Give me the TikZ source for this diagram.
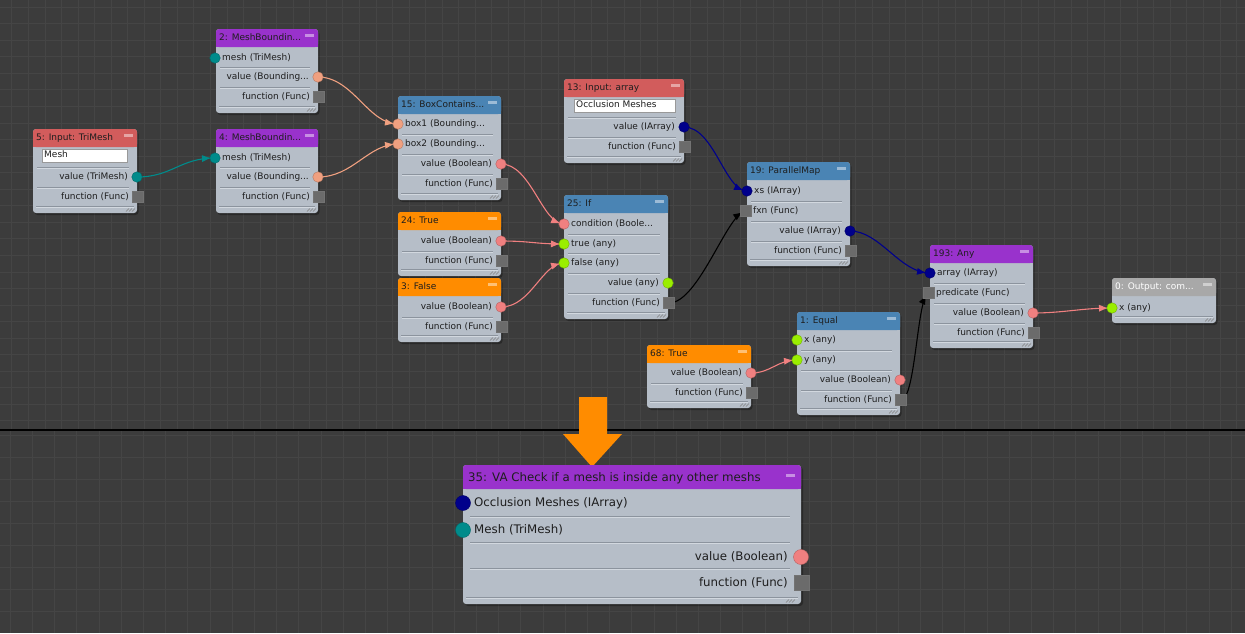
\documentclass[tikz,border=0pt]{standalone}
\usepackage{fontspec}
\setmainfont{DejaVu Sans}
\usetikzlibrary{arrows.meta,decorations.markings}
\pgfdeclarelayer{bgl}
\pgfdeclarelayer{wirel}
\pgfsetlayers{bgl,wirel,main}
\definecolor{bgc}{HTML}{3C3C3C}
\definecolor{gridc}{HTML}{454545}
\definecolor{bodyc}{HTML}{B6BEC8}
\definecolor{hred}{HTML}{D25C5C}
\definecolor{hpurple}{HTML}{9932CC}
\definecolor{hblue}{HTML}{4A84B4}
\definecolor{horange}{HTML}{FF8C00}
\definecolor{hgray}{HTML}{A8A8A8}
\definecolor{pteal}{HTML}{008B8B}
\definecolor{psalmon}{HTML}{F0A080}
\definecolor{pcoral}{HTML}{F08080}
\definecolor{plime}{HTML}{9AEE00}
\definecolor{pnavy}{HTML}{00008B}
\definecolor{pfunc}{HTML}{6B6B6B}
\definecolor{txt}{HTML}{1E1E1E}
\definecolor{sepd}{HTML}{8C949E}
\definecolor{sepl}{HTML}{D2D8DF}
\newcommand{\smallf}{\fontsize{9}{10.5}\selectfont}
\newcommand{\bigf}{\fontsize{11.8}{14}\selectfont}
\tikzset{
  port/.style={circle, inner sep=0pt, minimum size=10.5pt, fill=#1, draw=#1!75!black, line width=0.4pt},
  fport/.style={rectangle, inner sep=0pt, minimum size=11pt, fill=pfunc, draw=black!55, line width=0.5pt},
  lbl/.style={inner sep=0pt, font=\smallf, text=txt, text height=6.6pt, text depth=1.8pt},
  lblb/.style={inner sep=0pt, font=\bigf, text=txt, text height=8.6pt, text depth=2.3pt},
  bodybox/.style={rectangle, rounded corners=3pt, fill=bodyc, anchor=north west, inner sep=0pt, outer sep=0pt},
  wire/.style={color=#1, line width=1.1pt, postaction={decorate},
    decoration={markings, mark=at position -5pt with {\arrow{Triangle[length=8pt,width=6.5pt]}}}},
  field/.style={fill=white, draw=black!40, line width=0.4pt},
}
% #1 name #2 L #3 T #4 W #5 H #6 header colour #7 title #8 title colour
\newcommand{\gnode}[8]{%
  \fill[black, opacity=0.3, rounded corners=3pt] (#2+1.5,#3+2) rectangle ++(#4,#5);
  \node[bodybox, minimum width=#4pt, minimum height=#5pt] (#1) at (#2,#3) {};
  \fill[#6, rounded corners=3pt] (#1.north west) rectangle ([yshift=-18pt]#1.north east);
  \fill[#6] ([yshift=-9pt]#1.north west) rectangle ([yshift=-18pt]#1.north east);
  \fill[#6!55!white] ([xshift=-13pt,yshift=-5pt]#1.north east) rectangle ([xshift=-4pt,yshift=-7.5pt]#1.north east);
  \node[lbl, anchor=west, text=#8] (#1t) at ([xshift=3pt,yshift=-9.5pt]#1.north west) {#7};
  \draw[sepd, line width=0.5pt] ([xshift=3pt,yshift=7pt]#1.south west) -- ([xshift=-3pt,yshift=7pt]#1.south east);
  \draw[sepl, line width=0.5pt] ([xshift=3pt,yshift=6pt]#1.south west) -- ([xshift=-3pt,yshift=6pt]#1.south east);
  \foreach \k in {0,3,6} \draw[black!50, line width=0.5pt] ([xshift={-(5+\k)*1pt}, yshift=1.5pt]#1.south east) -- ++(3,-3);
}
\newcommand{\inp}[5]{\node[#3] (#4) at (#1,#2) {}; \node[lbl, anchor=west] (#4l) at (#1+7,#2) {#5};}
\newcommand{\outp}[5]{\node[#3] (#4) at (#1,#2) {}; \node[lbl, anchor=east] (#4l) at (#1-9,#2) {#5};}
\newcommand{\rowsep}[3]{\draw[sepd, line width=0.6pt] (#1+4,#3) -- (#2-8,#3); \draw[sepl, line width=0.6pt] (#1+4,#3+0.8) -- (#2-8,#3+0.8);}
\begin{document}
\begin{tikzpicture}[x=1pt, y=-1pt]
\useasboundingbox (0,0) rectangle (1245,633);
\begin{pgfonlayer}{bgl}
  \fill[bgc] (0,0) rectangle (1245,633);
  \foreach \i in {0,...,75} \draw[gridc, line width=0.6pt] ({11.7+16.55*\i},0) -- ({11.7+16.55*\i},429);
  \foreach \i in {0,...,25} \draw[gridc, line width=0.6pt] (0,{7+16.55*\i}) -- (1245,{7+16.55*\i});
  \foreach \i in {0,...,56} \draw[gridc, line width=0.6pt] ({10+22.2*\i},431) -- ({10+22.2*\i},633);
  \foreach \i in {0,...,8} \draw[gridc, line width=0.6pt] (0,{435+22*\i}) -- (1245,{435+22*\i});
  \draw[black, line width=2pt] (0,430) -- (1245,430);
\end{pgfonlayer}

% 5: Input TriMesh
\gnode{n5}{33}{129}{104}{84}{hred}{5: Input: TriMesh}{txt}
\draw[field] (42,149) rectangle (127,162);
\node[lbl, anchor=west] (n5f) at (44,155.5) {Mesh};
\rowsep{33}{137}{167}
\outp{137}{177}{port=pteal}{n5v}{value (TriMesh)}
\rowsep{33}{137}{187}
\outp{138}{197}{fport}{n5fn}{function (Func)}

% 2: MeshBounding
\gnode{n2}{216}{29}{102}{84}{hpurple}{2: MeshBoundin...}{txt}
\inp{215}{58}{port=pteal}{n2m}{mesh (TriMesh)}
\rowsep{216}{318}{67.5}
\outp{318}{77}{port=psalmon}{n2v}{value (Bounding...}
\rowsep{216}{318}{87}
\outp{319}{97}{fport}{n2fn}{function (Func)}

% 4: MeshBounding
\gnode{n4}{216}{129}{102}{84}{hpurple}{4: MeshBoundin...}{txt}
\inp{215}{158}{port=pteal}{n4m}{mesh (TriMesh)}
\rowsep{216}{318}{167.5}
\outp{318}{177}{port=psalmon}{n4v}{value (Bounding...}
\rowsep{216}{318}{187}
\outp{319}{197}{fport}{n4fn}{function (Func)}

% 15: BoxContains
\gnode{n15}{398}{96}{103}{104}{hblue}{15: BoxContains...}{txt}
\inp{398}{124}{port=psalmon}{n15a}{box1 (Bounding...}
\rowsep{398}{501}{134}
\inp{398}{144}{port=psalmon}{n15b}{box2 (Bounding...}
\rowsep{398}{501}{154}
\outp{501}{164}{port=pcoral}{n15v}{value (Boolean)}
\rowsep{398}{501}{174}
\outp{502}{184}{fport}{n15fn}{function (Func)}

% 24: True
\gnode{n24}{398}{212}{103}{64}{horange}{24: True}{txt}
\outp{501}{241}{port=pcoral}{n24v}{value (Boolean)}
\rowsep{398}{501}{251}
\outp{502}{261}{fport}{n24fn}{function (Func)}

% 3: False
\gnode{n3}{398}{278}{103}{64}{horange}{3: False}{txt}
\outp{501}{307}{port=pcoral}{n3v}{value (Boolean)}
\rowsep{398}{501}{317}
\outp{502}{327}{fport}{n3fn}{function (Func)}

% 25: If
\gnode{n25}{564}{195}{104}{124}{hblue}{25: If}{txt}
\inp{564}{224}{port=pcoral}{n25c}{condition (Boole...}
\rowsep{564}{668}{234}
\inp{564}{244}{port=plime}{n25t}{true (any)}
\rowsep{564}{668}{253.5}
\inp{564}{263}{port=plime}{n25f}{false (any)}
\rowsep{564}{668}{273}
\outp{668}{283}{port=plime}{n25v}{value (any)}
\rowsep{564}{668}{293}
\outp{669}{303}{fport}{n25fn}{function (Func)}

% 13: Input array
\gnode{n13}{564}{79}{120}{84}{hred}{13: Input: array}{txt}
\draw[field] (574,99) rectangle (675,112);
\node[lbl, anchor=west] (n13f) at (576,105.5) {Occlusion Meshes};
\rowsep{564}{684}{117}
\outp{684}{127}{port=pnavy}{n13v}{value (IArray)}
\rowsep{564}{684}{137}
\outp{685}{147}{fport}{n13fn}{function (Func)}

% 19: ParallelMap
\gnode{n19}{747}{162}{103}{104}{hblue}{19: ParallelMap}{txt}
\inp{747}{191}{port=pnavy}{n19xs}{xs (IArray)}
\rowsep{747}{850}{201}
\inp{746}{211}{fport}{n19fx}{fxn (Func)}
\rowsep{747}{850}{221}
\outp{850}{231}{port=pnavy}{n19v}{value (IArray)}
\rowsep{747}{850}{241}
\outp{851}{251}{fport}{n19fn}{function (Func)}

% 193: Any
\gnode{n193}{930}{245}{103}{103}{hpurple}{193: Any}{txt}
\inp{930}{273}{port=pnavy}{n193a}{array (IArray)}
\rowsep{930}{1033}{283}
\inp{929}{293}{fport}{n193p}{predicate (Func)}
\rowsep{930}{1033}{303}
\outp{1033}{313}{port=pcoral}{n193v}{value (Boolean)}
\rowsep{930}{1033}{323}
\outp{1034}{333}{fport}{n193fn}{function (Func)}

% 0: Output
\gnode{n0}{1112}{278}{104}{45}{hgray}{0: Output: com...}{white}
\inp{1112}{308}{port=plime}{n0x}{x (any)}

% 1: Equal
\gnode{n1}{797}{312}{103}{103}{hblue}{1: Equal}{txt}
\inp{797}{340}{port=plime}{n1x}{x (any)}
\rowsep{797}{900}{350}
\inp{797}{360}{port=plime}{n1y}{y (any)}
\rowsep{797}{900}{370}
\outp{900}{380}{port=pcoral}{n1v}{value (Boolean)}
\rowsep{797}{900}{390}
\outp{901}{400}{fport}{n1fn}{function (Func)}

% 68: True
\gnode{n68}{647}{345}{104}{63}{horange}{68: True}{txt}
\outp{751}{373}{port=pcoral}{n68v}{value (Boolean)}
\rowsep{647}{751}{383}
\outp{752}{393}{fport}{n68fn}{function (Func)}

% wires
\begin{pgfonlayer}{wirel}
  \draw[wire=pteal] (n5v.center) .. controls +(35,0) and +(-35,0) .. (n4m.center);
  \draw[wire=psalmon] (n2v.center) .. controls +(35,0) and +(-30,0) .. (n15a.center);
  \draw[wire=psalmon] (n4v.center) .. controls +(35,0) and +(-30,0) .. (n15b.center);
  \draw[wire=pcoral] (n15v.center) .. controls +(30,0) and +(-22,0) .. (n25c.center);
  \draw[wire=pcoral] (n24v.center) .. controls +(30,0) and +(-30,0) .. (n25t.center);
  \draw[wire=pcoral] (n3v.center) .. controls +(30,0) and +(-22,0) .. (n25f.center);
  \draw[wire=black] (n25fn.center) .. controls +(30,0) and +(-18,0) .. (n19fx.center);
  \draw[wire=pnavy] (n13v.center) .. controls +(30,0) and +(-22,0) .. (n19xs.center);
  \draw[wire=pnavy] (n19v.center) .. controls +(30,0) and +(-30,0) .. (n193a.center);
  \draw[wire=pcoral] (n68v.center) .. controls +(20,0) and +(-20,0) .. (n1y.center);
  \draw[wire=black] (n1fn.center) .. controls +(15,0) and +(-12,0) .. (n193p.center);
  \draw[wire=pcoral] (n193v.center) .. controls +(30,0) and +(-30,0) .. (n0x.center);
\end{pgfonlayer}

% orange arrow
\fill[horange] (579,397) -- (607,397) -- (607,434) -- (622,434) -- (592,467) -- (563,434) -- (579,434) -- cycle;

% 35: compound node
\fill[black, opacity=0.3, rounded corners=3pt] (465,467) rectangle ++(338,139);
\node[bodybox, minimum width=338pt, minimum height=139pt] (n35) at (463,465) {};
\fill[hpurple, rounded corners=3pt] (n35.north west) rectangle ([yshift=-24pt]n35.north east);
\fill[hpurple] ([yshift=-12pt]n35.north west) rectangle ([yshift=-24pt]n35.north east);
\fill[hpurple!55!white] (786,474) rectangle (795,476.5);
\node[lblb, anchor=west] (n35t) at (468,478) {35: VA Check if a mesh is inside any other meshs};
\node[port=pnavy, minimum size=15pt] (n35o) at (463,503) {};
\node[lblb, anchor=west] (n35ol) at (474,503) {Occlusion Meshes (IArray)};
\draw[sepd, line width=0.7pt] (470,516) -- (790,516);
\draw[sepl, line width=0.7pt] (470,517) -- (790,517);
\node[port=pteal, minimum size=15pt] (n35m) at (463,530) {};
\node[lblb, anchor=west] (n35ml) at (474,530) {Mesh (TriMesh)};
\draw[sepd, line width=0.7pt] (470,542) -- (790,542);
\draw[sepl, line width=0.7pt] (470,543) -- (790,543);
\node[port=pcoral, minimum size=15pt] (n35v) at (801,557) {};
\node[lblb, anchor=east] (n35vl) at (788,557) {value (Boolean)};
\draw[sepd, line width=0.7pt] (470,568) -- (790,568);
\draw[sepl, line width=0.7pt] (470,569) -- (790,569);
\node[fport, minimum size=15pt] (n35f) at (802,583) {};
\node[lblb, anchor=east] (n35fl) at (788,583) {function (Func)};
\draw[sepd, line width=0.5pt] (466,597) -- (798,597);
\draw[sepl, line width=0.5pt] (466,598) -- (798,598);
\foreach \k in {0,3,6} \draw[black!50, line width=0.5pt] ({792-\k},602.5) -- ++(3,-3);
\end{tikzpicture}
\end{document}
